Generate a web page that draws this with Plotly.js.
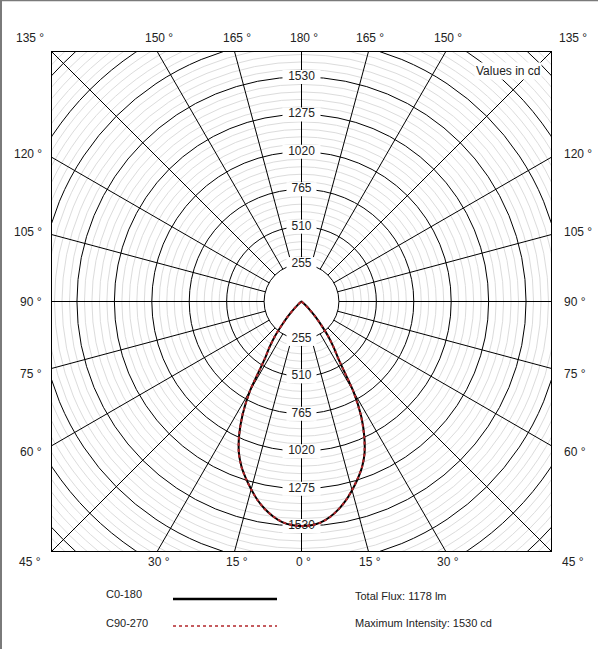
<!DOCTYPE html>
<html>
<head>
<meta charset="utf-8">
<script src="https://cdn.plot.ly/plotly-3.0.1.min.js"></script>
<style>
  html,body{margin:0;padding:0;background:#fff;}
  #chart{width:598px;height:649px;}
</style>
</head>
<body>
<div id="chart"></div>
<script>
// gamma angles (deg from nadir) and intensities in cd
const gamma = [0,2.5,5,7.5,10,12.5,15,17.5,20,22.5,25,27.5,30,32.5,35,37.5,40,42.5,45,47.5,50,55,60,70,80,90];
const c0    = [1530,1526,1511,1481,1440,1390,1331,1270,1204,1122,1012,880,706,478,385,300,208,138,80,36,10,0,0,0,0,0];
const c180  = [1530,1525,1509,1478,1436,1385,1325,1262,1196,1115,1005,870,700,470,380,296,204,135,78,34,9,0,0,0,0,0];
const c90   = [1530,1527,1512,1482,1441,1391,1330,1268,1203,1121,1010,878,704,476,383,298,206,137,79,35,10,0,0,0,0,0];
const c270  = [1530,1524,1508,1477,1437,1386,1326,1263,1198,1117,1007,872,702,472,381,297,205,136,78,34,9,0,0,0,0,0];

const ringLabels = [255,510,765,1020,1275,1530];
const angleTicks = [0,15,30,45,60,75,90,105,120,135,150,165,180];
const totalFlux = 1178, maxIntensity = 1530;

// geometry
const ML=52, MT=52, PW=499, PH=499, HALF=1700;
const K = (2*HALF)/PW;                 // cd per pixel
const px = x => (x-ML)/PW, py = y => 1-(y-MT)/PH;
const cx = v => ML + PW*(v+HALF)/(2*HALF), cy = v => MT + PH*(HALF-v)/(2*HALF);
const FONT = "Liberation Sans, Arial, sans-serif", TXT = "#222";
const rad = d => d*Math.PI/180;

// polar plane -> x/y path (right half = first plane, left half = opposite plane)
function plane(right, left){
  const half = (I, sgn) => {
    const pts = [];
    for(let i=0;i<gamma.length;i++){
      if(I[i]<=0){ pts.push([0,0]); break; }
      pts.push([sgn*I[i]*Math.sin(rad(gamma[i])), -I[i]*Math.cos(rad(gamma[i]))]);
    }
    return pts;
  };
  const pts = half(left,-1).reverse().concat(half(right,1).slice(1));
  return {x:pts.map(p=>p[0]), y:pts.map(p=>p[1])};
}

const shapes = [];
// minor rings
for(let r=51; r<2450; r+=51){
  if(r<=255 || r%255===0) continue;
  shapes.push({type:"circle",xref:"x",yref:"y",x0:-r,x1:r,y0:-r,y1:r,layer:"below",line:{color:"#dcdcdc",width:1}});
}
// major rings
for(let r=255; r<2450; r+=255){
  shapes.push({type:"circle",xref:"x",yref:"y",x0:-r,x1:r,y0:-r,y1:r,layer:"below",line:{color:"#000",width:1}});
}
// spokes every 15 deg from the 255 ring outward
for(let a=0; a<360; a+=15){
  const s=Math.sin(rad(a)), c=Math.cos(rad(a));
  shapes.push({type:"line",xref:"x",yref:"y",x0:255*s,y0:-255*c,x1:2600*s,y1:-2600*c,layer:"below",line:{color:"#000",width:1}});
}
// white boxes behind ring value labels
ringLabels.forEach(v=>{
  const hw = (String(v).length>3?19:15)*K, hh = 7*K;
  [v,-v].forEach(y=>shapes.push({type:"rect",xref:"x",yref:"y",x0:-hw,x1:hw,y0:y-hh,y1:y+hh,layer:"below",fillcolor:"#fff",line:{width:0}}));
});
// outer window frame (left/top)
shapes.push({type:"line",xref:"paper",yref:"paper",x0:px(1),x1:px(1),y0:py(0),y1:py(649),line:{color:"#7a7a7a",width:2}});
shapes.push({type:"line",xref:"paper",yref:"paper",x0:px(0),x1:px(598),y0:py(0.5),y1:py(0.5),line:{color:"#7a7a7a",width:1.5}});
// legend samples
shapes.push({type:"line",xref:"paper",yref:"paper",x0:px(173),x1:px(277),y0:py(599),y1:py(599),line:{color:"#000",width:2.5}});
shapes.push({type:"line",xref:"paper",yref:"paper",x0:px(173),x1:px(277),y0:py(626),y1:py(626),line:{color:"#b3262a",width:1.5,dash:"dot"}});

// angle labels round the box
const ann = [];
const lab = (x,y,t,xa,sz) => ann.push({xref:"paper",yref:"paper",x:px(x),y:py(y),text:t,showarrow:false,
  xanchor:xa||"center",yanchor:"middle",font:{family:FONT,size:sz||12,color:TXT}});
angleTicks.forEach(a=>{
  const sides = (a===0||a===180)?[1]:[1,-1];
  sides.forEach(sg=>{
    const s=Math.sin(rad(a)), c=-Math.cos(rad(a));
    const t = HALF/Math.max(Math.abs(s),Math.abs(c));
    const X=cx(sg*t*s), Y=cy(t*c)+(a<90?6:a>90?-3:0), txt=a+" °";
    if(a===45||a===135){ lab(X+sg*22, a===45?562:38, txt); }
    else if(Math.abs(s)>Math.abs(c)){ sg>0?lab(562,Y,txt,"left"):lab(44,Y,txt,"right"); }
    else { lab(X+2, c<0?562:38, txt); }
  });
});
ann.push({xref:"paper",yref:"paper",x:px(508),y:py(71),xanchor:"center",yanchor:"middle",text:"Values in cd",
  showarrow:false,bgcolor:"#fff",borderpad:1,font:{family:FONT,size:12,color:TXT}});
lab(104,594,"C0-180","left",11);
lab(104,623,"C90-270","left",11);
lab(353,596,"Total Flux: "+totalFlux+" lm","left",11);
lab(353,623,"Maximum Intensity: "+maxIntensity+" cd","left",11);

const p1 = plane(c0,c180), p2 = plane(c90,c270);
const traces = [
  {x:ringLabels.map(()=>0).concat(ringLabels.map(()=>0)), y:ringLabels.concat(ringLabels.map(v=>-v)),
   text:ringLabels.concat(ringLabels).map(String), mode:"text", textposition:"middle center",
   textfont:{family:FONT,size:12,color:TXT}, hoverinfo:"skip", showlegend:false, cliponaxis:false},
  {x:p1.x, y:p1.y, mode:"lines", name:"C0-180", line:{color:"#000",width:2,shape:"spline",smoothing:0.6}, showlegend:false},
  {x:p2.x, y:p2.y, mode:"lines", name:"C90-270", line:{color:"#b3262a",width:2,dash:"dot",shape:"spline",smoothing:0.6}, showlegend:false}
];

const ax = {range:[-HALF,HALF],showgrid:false,zeroline:false,showticklabels:false,ticks:"",
  showline:true,mirror:true,linecolor:"#000",linewidth:1,fixedrange:true};
Plotly.newPlot("chart", traces, {
  width:598, height:649,
  margin:{l:ML,r:598-ML-PW,t:MT,b:649-MT-PH,pad:0},
  paper_bgcolor:"#fff", plot_bgcolor:"#fff",
  xaxis:Object.assign({},ax), yaxis:Object.assign({},ax),
  shapes:shapes, annotations:ann, showlegend:false
}, {displayModeBar:false,staticPlot:true});
</script>
</body>
</html>
